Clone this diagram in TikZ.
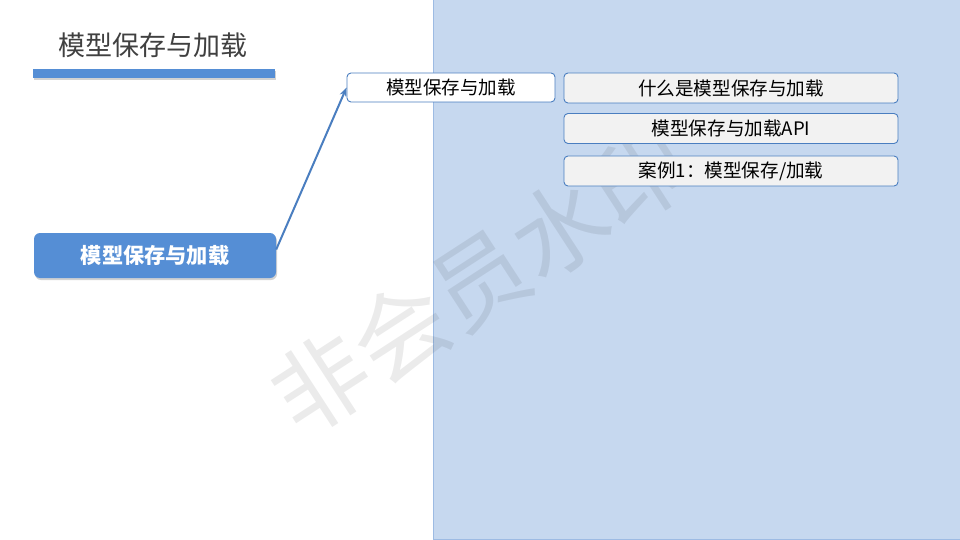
\documentclass[tikz,border=0pt]{standalone}
\usepackage{fontspec}
\newfontfamily\cjk{Noto Sans CJK SC}
\usetikzlibrary{shadows,arrows.meta}
\definecolor{panelblue}{HTML}{C6D8EF}
\definecolor{panelline}{HTML}{9DBBE3}
\definecolor{mainblue}{HTML}{558ED5}
\definecolor{linkblue}{HTML}{4A7EC0}
\definecolor{boxgray}{HTML}{F2F2F2}
\tikzset{
  leafbox/.style={draw=linkblue, line width=0.9pt, fill=boxgray, rounded corners=4pt, minimum width=334pt, minimum height=30pt, inner sep=0pt, font=\cjk\fontsize{18.6}{21}\selectfont, text=black},
  midbox/.style={draw=linkblue, line width=0.9pt, fill=white, rounded corners=4pt, minimum width=208pt, minimum height=29pt, inner sep=0pt, font=\cjk\fontsize{18.5}{21}\selectfont, text=black},
  rootbox/.style={fill=mainblue, rounded corners=6pt, minimum width=242pt, minimum height=45pt, inner sep=0pt, font=\cjk\bfseries\fontsize{21.2}{24}\selectfont, text=white, drop shadow={shadow xshift=1pt, shadow yshift=-2pt, opacity=0.35}},
  link/.style={draw=linkblue, line width=2pt, -{Stealth[length=9pt,width=7pt]}},
}
\begin{document}
\begin{tikzpicture}[x=1pt,y=-1pt]
\useasboundingbox (0,0) rectangle (960,540);
\fill[white] (0,0) rectangle (960,540);
% panel
\fill[panelblue] (433,0) rectangle (960,539);
\draw[panelline, line width=0.8pt] (433,0) -- (433,539) -- (960,539);
% watermark
\node[rotate=33, text=black, opacity=0.08, font=\cjk\fontsize{95}{100}\selectfont] (wm) at (480,280) {非会员水印};
% title
\node[anchor=west, font=\cjk\fontsize{27}{32}\selectfont, text=black!75] (title) at (55,45) {模型保存与加载};
\fill[mainblue, drop shadow={shadow xshift=1pt, shadow yshift=-2pt, opacity=0.35}] (33,69) rectangle (275,78);
% nodes
\node[rootbox] (root) at (155,255.5) {模型保存与加载};
\node[midbox] (mid) at (451,87.5) {模型保存与加载};
\node[leafbox] (l1) at (731,88) {什么是模型保存与加载};
\node[leafbox] (l2) at (731,128.5) {模型保存与加载API};
\node[leafbox] (l3) at (731,171) {案例1：模型保存/加载};
\coordinate (rs) at ([yshift=6pt]root.east);
\draw[link] (rs) -- (mid.west);
\end{tikzpicture}
\end{document}
